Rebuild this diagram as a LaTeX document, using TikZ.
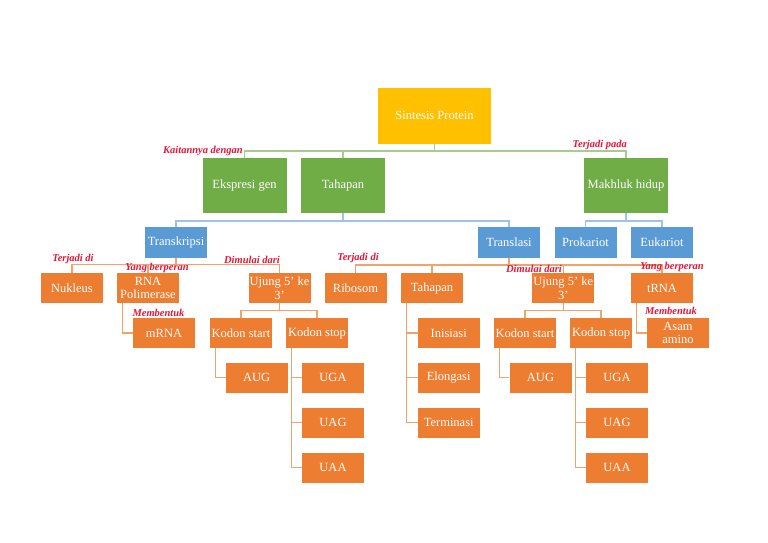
\documentclass[tikz,border=0pt]{standalone}
\usepackage{fontspec}
\setmainfont{Liberation Serif}
\usepackage{tikz}
\usetikzlibrary{positioning,calc}
\definecolor{PSyellow}{HTML}{FFC000}
\definecolor{PSgreen}{HTML}{70AD47}
\definecolor{PSblue}{HTML}{5B9BD5}
\definecolor{PSorange}{HTML}{ED7D31}
\definecolor{PSgreenline}{HTML}{A9CC8E}
\definecolor{PSblueline}{HTML}{9DC3E6}
\definecolor{PSorangeline}{HTML}{F0A46C}
\definecolor{PSred}{HTML}{E5163A}
\tikzset{
  cm/box/.style={fill=#1, text=white, align=center, inner sep=1pt,
    font=\fontsize{12.5}{13.5}\selectfont},
  cm/root/.style={cm/box=PSyellow, minimum width=113pt, minimum height=56pt},
  cm/topic/.style={cm/box=PSgreen, minimum width=84pt, minimum height=55pt},
  cm/stage/.style={cm/box=PSblue, minimum width=62pt, minimum height=31pt},
  cm/leaf/.style={cm/box=PSorange, minimum width=62pt, minimum height=30pt},
  cm/link/.style={draw=#1, line width=1.1pt},
  cm/word/.style={text=PSred, inner sep=0pt, font=\fontsize{10.5}{11}\selectfont\bfseries\itshape}
}

\begin{document}
\begin{tikzpicture}[x=1pt, y=-1pt]
  \useasboundingbox (0,0) rectangle (768,543);
  % level 0 and 1
  \node[cm/root] (sp) at (434.5,115.5) {Sintesis Protein};
  \node[cm/topic] (eg) at (244.5,185.5) {Ekspresi gen};
  \node[cm/topic] (tah) at (343,185.5) {Tahapan};
  \node[cm/topic] (mh) at (626,185.5) {Makhluk hidup};
  % level 2
  \node[cm/stage] (trk) at (176,242.5) {Transkripsi};
  \node[cm/stage] (trl) at (509,242.5) {Translasi};
  \node[cm/stage] (pro) at (585.5,242.5) {Prokariot};
  \node[cm/stage] (euk) at (662,242.5) {Eukariot};
  % level 3
  \node[cm/leaf] (nuk) at (72,288) {Nukleus};
  \node[cm/leaf] (rna) at (148,288) {RNA\\Polimerase};
  \node[cm/leaf] (uja) at (279.5,288) {Ujung 5' ke\\3'};
  \node[cm/leaf] (rib) at (355.5,288) {Ribosom};
  \node[cm/leaf] (tahb) at (432,288) {Tahapan};
  \node[cm/leaf] (ujb) at (563.3,288) {Ujung 5' ke\\3'};
  \node[cm/leaf] (trna) at (662,288) {tRNA};
  % level 4
  \node[cm/leaf] (mrna) at (164,333) {mRNA};
  \node[cm/leaf] (ksa) at (241,333) {Kodon start};
  \node[cm/leaf] (kpa) at (317,333) {Kodon stop};
  \node[cm/leaf] (ini) at (448.7,333) {Inisiasi};
  \node[cm/leaf] (ksb) at (525,333) {Kodon start};
  \node[cm/leaf] (kpb) at (601,333) {Kodon stop};
  \node[cm/leaf] (asam) at (678,333) {Asam\\amino};
  % level 5
  \node[cm/leaf] (auga) at (256.7,377.7) {AUG};
  \node[cm/leaf] (ugaa) at (333,377.7) {UGA};
  \node[cm/leaf] (uaga) at (333,422.7) {UAG};
  \node[cm/leaf] (uaaa) at (333,467.7) {UAA};
  \node[cm/leaf] (elo) at (448.7,377.7) {Elongasi};
  \node[cm/leaf] (ter) at (448.7,422.7) {Terminasi};
  \node[cm/leaf] (augb) at (540.5,377.7) {AUG};
  \node[cm/leaf] (ugab) at (617,377.7) {UGA};
  \node[cm/leaf] (uagb) at (617,422.7) {UAG};
  \node[cm/leaf] (uaab) at (617,467.7) {UAA};
  % buses
  \coordinate (gbus) at (434.5,151);
  \coordinate (bbus) at (343,221);
  \coordinate (mbus) at (626,221);
  \coordinate (kbus) at (176,264.5);
  \coordinate (lbus) at (509,265);
  \coordinate (abus) at (279.5,310.5);
  \coordinate (cbus) at (563.3,310.5);
  \draw[cm/link=PSgreenline] (eg.north) |- (gbus) -| (mh.north);
  \draw[cm/link=PSgreenline] (sp.south) -- (gbus);
  \draw[cm/link=PSgreenline] (tah.north) -- (tah.north |- gbus);
  \draw[cm/link=PSblueline] (trk.north) |- (bbus) -| (trl.north);
  \draw[cm/link=PSblueline] (tah.south) -- (bbus);
  \draw[cm/link=PSblueline] (pro.north) |- (mbus) -| (euk.north);
  \draw[cm/link=PSblueline] (mh.south) -- (mbus);
  \draw[cm/link=PSorangeline] (nuk.north) |- (kbus) -| (uja.north);
  \draw[cm/link=PSorangeline] (trk.south) -- (kbus);
  \draw[cm/link=PSorangeline] (rna.north) -- (rna.north |- kbus);
  \draw[cm/link=PSorangeline] (rib.north) |- (lbus) -| (trna.north);
  \draw[cm/link=PSorangeline] (trl.south) -- (lbus);
  \draw[cm/link=PSorangeline] (tahb.north) -- (tahb.north |- lbus);
  \draw[cm/link=PSorangeline] (ujb.north) -- (ujb.north |- lbus);
  \draw[cm/link=PSorangeline] (ksa.north) |- (abus) -| (kpa.north);
  \draw[cm/link=PSorangeline] (uja.south) -- (abus);
  \draw[cm/link=PSorangeline] (ksb.north) |- (cbus) -| (kpb.north);
  \draw[cm/link=PSorangeline] (ujb.south) -- (cbus);
  % side branches
  \foreach \from/\to in {rna/mrna, ksa/auga, kpa/ugaa, kpa/uaga, kpa/uaaa,
      tahb/ini, tahb/elo, tahb/ter, ksb/augb, kpb/ugab, kpb/uagb, kpb/uaab, trna/asam}
    \draw[cm/link=PSorangeline] ([xshift=6pt]\from.south west) |- (\to.west);
  % link words
  \node[cm/word, anchor=east] (w1) at (243,151) {Kaitannya dengan};
  \node[cm/word, anchor=south east] (w2) at (627,149.5) {Terjadi pada};
  \node[cm/word, anchor=south] (w3) at (73,263.5) {Terjadi di};
  \node[cm/word] (w4) at (157,267.5) {Yang berperan};
  \node[cm/word, anchor=south east] (w5) at (280,263.5) {Dimulai dari};
  \node[cm/word, anchor=south] (w6) at (358,263) {Terjadi di};
  \node[cm/word, anchor=north east] (w7) at (562,265.5) {Dimulai dari};
  \node[cm/word] (w8) at (672,267) {Yang berperan};
  \node[cm/word] (w9) at (158.5,312.5) {Membentuk};
  \node[cm/word] (w10) at (671,311) {Membentuk};
\end{tikzpicture}
\end{document}
